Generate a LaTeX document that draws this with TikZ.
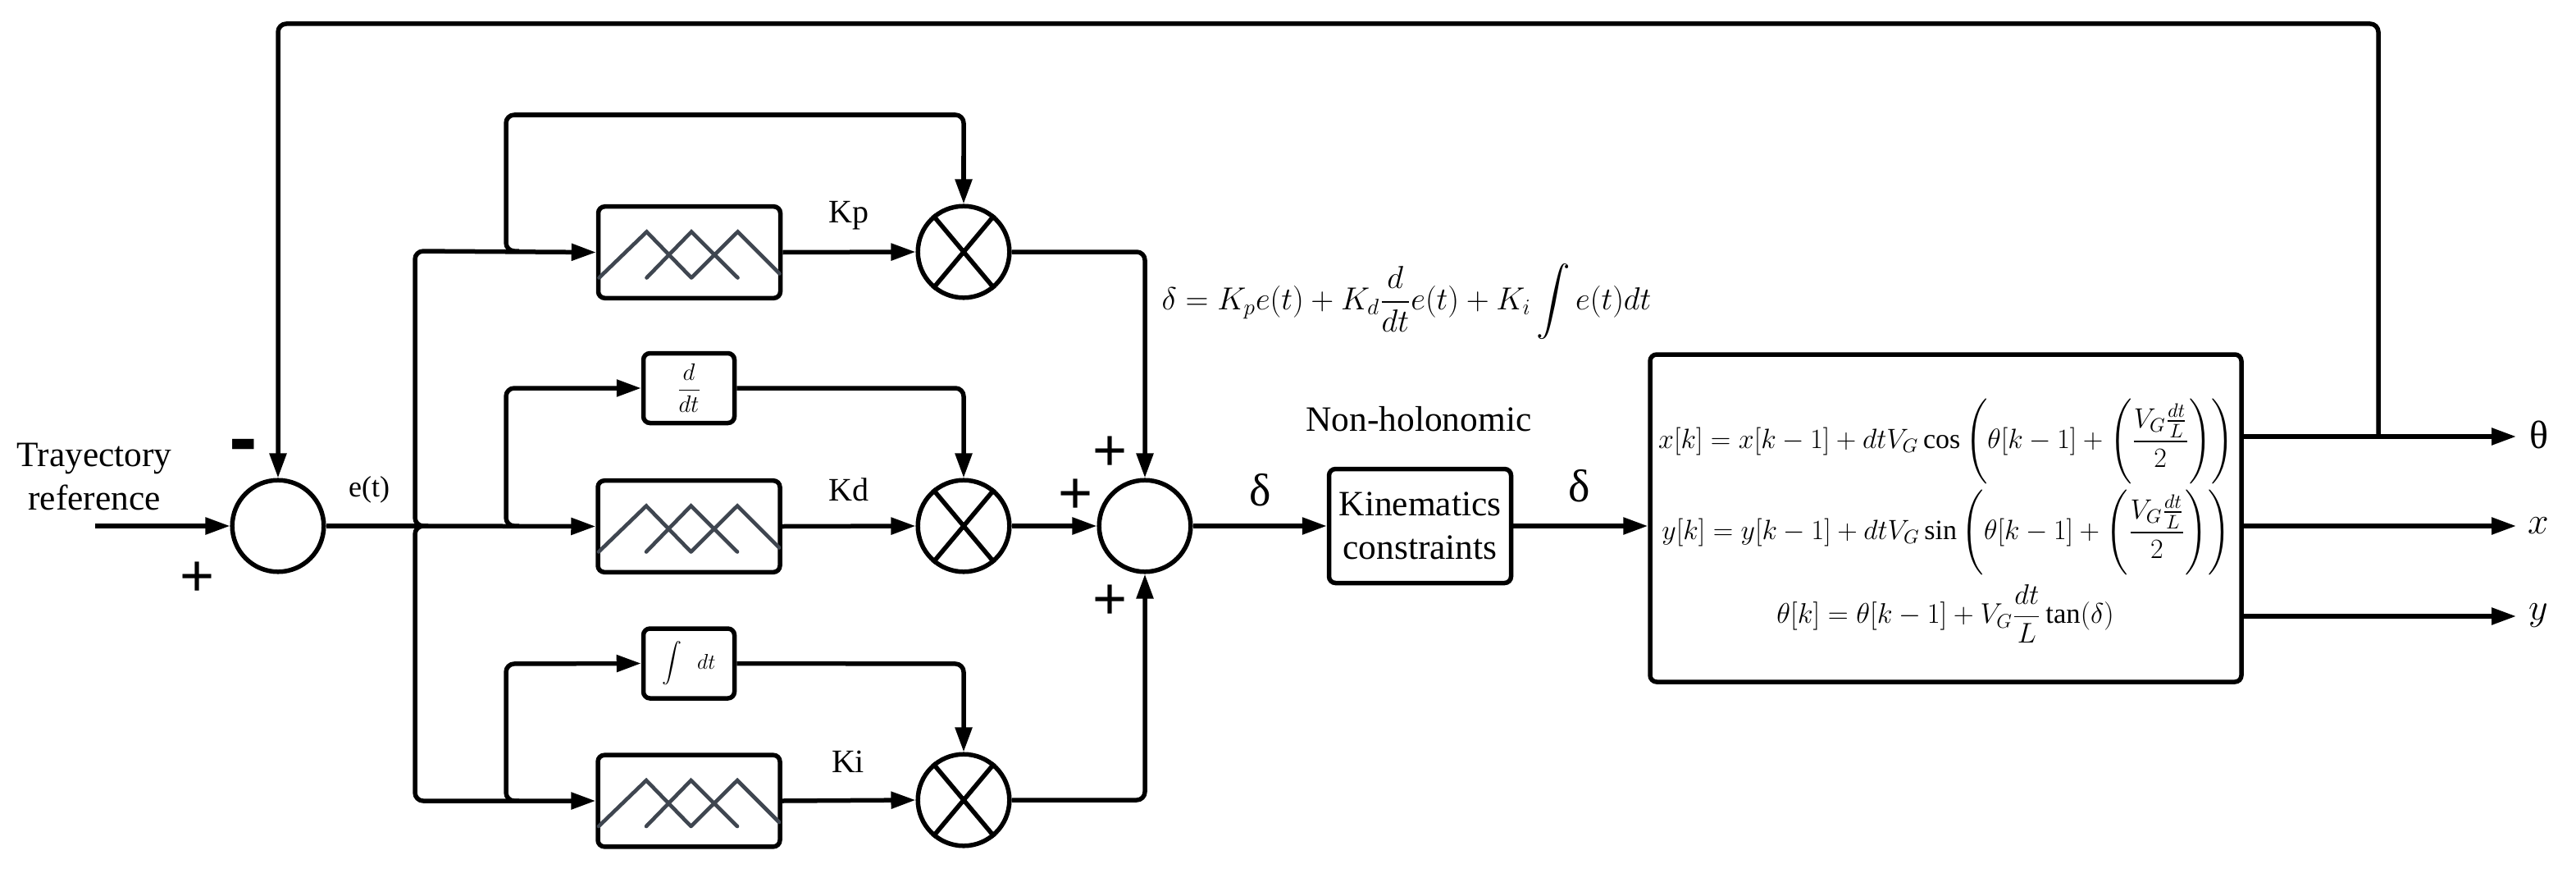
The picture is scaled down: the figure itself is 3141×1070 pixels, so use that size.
\RequirePackage{fix-cm}
\documentclass[tikz,border=0pt]{standalone}
\usepackage{amsmath}
\usepackage{fontspec}
\setmainfont{Liberation Serif}
\newfontfamily\plusfont{Liberation Sans}
\usetikzlibrary{arrows.meta}
\definecolor{fuzzc}{HTML}{3F4650}
\tikzset{
  x=0.5pt,y=-0.5pt,
  wire/.style={draw=black,line width=2.75pt,rounded corners=5pt,line join=round},
  arr/.style={wire,-{Triangle[length=15pt,width=10pt]}},
  box/.style={draw=black,line width=2.75pt,rectangle,rounded corners=4pt,inner sep=0pt,fill=white},
  bigblock/.style={box,minimum width=111pt,minimum height=55.8pt},
  smallblock/.style={box,minimum width=55.5pt,minimum height=42.5pt},
  junctionc/.style={draw=black,line width=2.75pt,circle,inner sep=0pt,minimum size=55.8pt,fill=white},
  fz/.style={draw=fuzzc,line width=2.3pt,line cap=round,line join=miter},
  lab/.style={inner sep=0pt,font=\fontsize{21.7}{26.5}\selectfont,align=center},
  glabel/.style={inner sep=0pt,font=\fontsize{20}{24}\selectfont},
  sign/.style={inner sep=0pt,font=\plusfont\fontsize{36}{36}\selectfont},
  minus/.style={inner sep=0pt,font=\plusfont\bfseries\fontsize{52}{52}\selectfont},
  eqn/.style={inner sep=0pt,font=\fontsize{17}{20}\selectfont},
}
\newcommand{\fuzzyset}[1]{\draw[fz,shift={(#1.center)}] (-110,31) -- (-52,-25) -- (2.5,31) (-52,31) -- (2.5,-25) -- (59,31) (2.5,31) -- (59,-25) -- (110,26);}
\newcommand{\crossin}[1]{\draw[wire] (#1.50) -- (#1.230) (#1.130) -- (#1.310);}
\begin{document}
\begin{tikzpicture}
\useasboundingbox (0,0) rectangle (3141,1070);
% blocks
\node[bigblock] (bp) at (840.5,307.5) {};
\node[bigblock] (bd) at (840,641.5) {};
\node[bigblock] (bi) at (840,976) {};
\node[smallblock] (dd) at (840,473) {\fontsize{14.5}{17}\selectfont$\dfrac{d}{dt}$};
\node[smallblock] (ii) at (840,808.5) {\fontsize{13}{15}\selectfont$\displaystyle\int\;\;dt$};
\fuzzyset{bp}\fuzzyset{bd}\fuzzyset{bi}
\node[junctionc] (s1) at (339,641) {};
\node[junctionc] (mp) at (1175,307) {};
\node[junctionc] (md) at (1175,641) {};
\node[junctionc] (mi) at (1175,975) {};
\node[junctionc] (s2) at (1396,641) {};
\crossin{mp}\crossin{md}\crossin{mi}
\node[box,minimum width=111pt,minimum height=69.5pt,lab] (kc) at (1731.5,641) {Kinematics\\constraints};
\node[box,minimum width=360.5pt,minimum height=199.5pt] (pl) at (2372.5,631.5) {};
% coordinates
\coordinate (in) at (116,641);
\coordinate (jb) at (506,641);
\coordinate (jbr) at (522,641);
\coordinate (jp) at (617,306);
\coordinate (jpr) at (633,306);
\coordinate (jd) at (617,641);
\coordinate (jdr) at (633,641);
\coordinate (ji) at (617,976);
\coordinate (jir) at (633,976);
\coordinate (jf) at (2900,532);
\coordinate (ot) at (3068,532);
\coordinate (ox) at (3068,641);
\coordinate (oy) at (3068,751);
\coordinate (mpin) at (1175,190);
% connectors
\draw[arr] (in) -- (s1.west);
\draw[wire] (s1.east) -- (jb);
\draw[arr] (jb) -- (bd.west);
\draw[arr] (jbr) -- (jb) -- (506,306) -- (bp.west);
\draw[arr] (jbr) -- (jb) -- (506,976) -- (bi.west);
\draw[wire] (jpr) -- (jp) -- (617,140) -- (1175,140) -- (mpin);
\draw[arr] (mpin) -- (mp.north);
\draw[arr] (jdr) -- (jd) -- (617,473) -- (dd.west);
\draw[arr] (jir) -- (ji) -- (617,809) -- (ii.west);
\draw[arr] (bp.east) -- (mp.west);
\draw[arr] (bd.east) -- (md.west);
\draw[arr] (bi.east) -- (mi.west);
\draw[arr] (dd.east) -- (1175,473) -- (md.north);
\draw[arr] (ii.east) -- (1175,809) -- (mi.north);
\draw[arr] (mp.east) -- (1396,307) -- (s2.north);
\draw[arr] (md.east) -- (s2.west);
\draw[arr] (mi.east) -- (1396,975) -- (s2.south);
\draw[arr] (s2.east) -- (kc.west);
\draw[arr] (kc.east) -- (pl.west |- kc.east);
\draw[arr] (pl.east |- jf) -- (ot);
\draw[arr] (pl.east |- ox) -- (ox);
\draw[arr] (pl.east |- oy) -- (oy);
\draw[arr] (jf) -- (2900,29) -- (339,29) -- (s1.north);
% labels
\node[lab] (tr) at (115,581) {Trayectory\\reference};
\node[minus] (m1) at (297,552) {-};
\node[sign] (p1) at (241,706) {+};
\node[inner sep=0pt,font=\fontsize{18}{20}\selectfont] (et) at (450,597) {e(t)};
\node[glabel] (kp) at (1035,263) {Kp};
\node[glabel] (kd) at (1035,597) {Kd};
\node[glabel] (ki) at (1034,928) {Ki};
\node[sign] (p2) at (1354,553) {+};
\node[sign] (p3) at (1312,605) {+};
\node[sign] (p4) at (1354,734) {+};
\node[inner sep=0pt,font=\fontsize{28}{30}\selectfont] (d1) at (1537,597) {δ};
\node[inner sep=0pt,font=\fontsize{28}{30}\selectfont] (d2) at (1926,592) {δ};
\node[lab] (nh) at (1730,511) {Non-holonomic};
\node[inner sep=0pt,font=\fontsize{24}{26}\selectfont] (lt) at (3096,530) {θ};
\node[inner sep=0pt,font=\fontsize{23}{26}\selectfont] (lx) at (3095,641) {$x$};
\node[inner sep=0pt,font=\fontsize{23}{26}\selectfont] (ly) at (3095,750) {$y$};
\node[eqn,font=\fontsize{19.4}{22}\selectfont] (e0) at (1715,368) {$\delta = K_p e(t)+K_d\dfrac{d}{dt}e(t)+K_i\displaystyle\int e(t)dt$};
\node[eqn] (e1) at (2373,538) {$\displaystyle x[k]=x[k-1]+dtV_G\cos\left(\theta[k-1]+\left(\frac{V_G\frac{dt}{L}}{2}\right)\right)$};
\node[eqn] (e2) at (2373,649) {$\displaystyle y[k]=y[k-1]+dtV_G\sin\left(\theta[k-1]+\left(\frac{V_G\frac{dt}{L}}{2}\right)\right)$};
\node[eqn,font=\fontsize{17.3}{20}\selectfont] (e3) at (2372,748) {$\displaystyle \theta[k]=\theta[k-1]+V_G\frac{dt}{L}\tan(\delta)$};
\end{tikzpicture}
\end{document}
